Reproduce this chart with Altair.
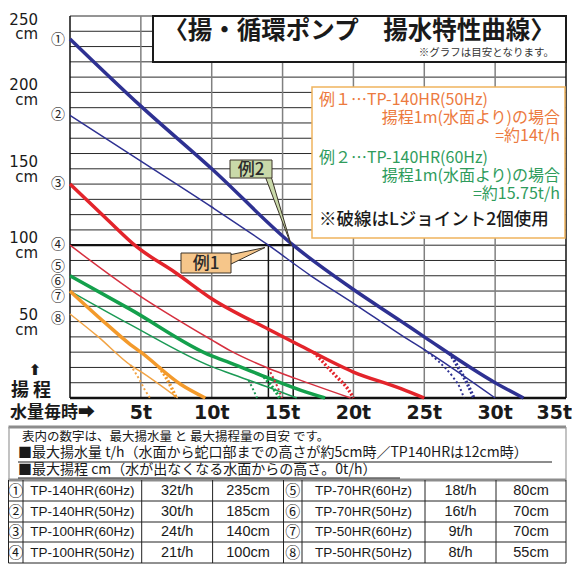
import altair as alt
import pandas as pd

# ---------------- data ----------------
flow_ticks = [5, 10, 15, 20, 25, 30, 35]
flow_grid = [5, 10, 15, 20, 25, 30]
head_grid = [0, 10, 20, 30, 40, 50, 60, 70, 80, 90, 100, 110, 120, 130, 140,
             150, 160, 170, 180, 190, 200, 210, 220, 230, 240, 250]
head_ticks = [200, 150, 100, 50]
head_top = [250]

pump_ids = ["①", "②", "③", "④", "⑤", "⑥", "⑦", "⑧"]
pump_colors = ["#2e3192", "#2e3192", "#e3242b", "#d6303f",
               "#14a04c", "#1b9a55", "#f39a2b", "#f2a445"]
pump_label_head = [234, 185, 140, 100, 86, 76, 66, 52]

models = ["TP-140HR(60Hz)", "TP-140HR(50Hz)", "TP-100HR(60Hz)", "TP-100HR(50Hz)",
          "TP-70HR(60Hz)", "TP-70HR(50Hz)", "TP-50HR(60Hz)", "TP-50HR(50Hz)"]
max_flow = ["32t/h", "30t/h", "24t/h", "21t/h", "18t/h", "16t/h", "9t/h", "8t/h"]
max_head = ["235cm", "185cm", "140cm", "100cm", "80cm", "70cm", "70cm", "55cm"]

# solid curves (flow t/h, head cm)
p1_flow = [0, 5, 10, 15.75, 20, 23.4, 25, 30, 32]
p1_head = [235, 191, 150, 100, 71, 50, 40, 10, 0]
p2_flow = [0, 5, 10, 14, 17, 20, 23.4, 25.2, 30]
p2_head = [185, 155, 125, 100, 80, 62, 41, 30.5, 0]
p3_flow = [0, 2.5, 4.7, 7.45, 10, 14, 16.3, 20, 23.4, 25]
p3_head = [140, 118, 99, 82, 65, 45, 34, 17, 6, 0]
p4_flow = [0, 4.26, 10, 11.3, 14, 16, 19.8]
p4_head = [100, 71, 38, 31, 19.5, 12.5, 0]
p5_flow = [0, 4.26, 10, 11.3, 14, 16.3, 18]
p5_head = [80, 58, 27.5, 23, 13, 5, 0]
p6_flow = [0, 4.26, 10, 11.3, 14, 16]
p6_head = [70, 48, 20.5, 16, 7, 0]
p7_flow = [0, 2.5, 4.26, 5, 7.8, 9.55]
p7_head = [70, 49, 35, 30, 9, 0]
p8_flow = [0, 2, 4.26, 5, 7.6]
p8_head = [55, 40, 21.6, 17.2, 0]

# dotted curves (with two L joints)
d1_flow = [26.8, 27.4, 28.0, 28.5]
d1_head = [29.2, 20, 10, 0]
d2_flow = [25.0, 26.0, 27.0, 27.5, 27.8]
d2_head = [31.5, 24, 14, 7, 0]
d3_flow = [17.2, 17.7, 18.8, 19.6, 20.0]
d3_head = [30, 25, 14, 6, 0]
d4_flow = [14.0, 14.4, 14.7, 14.95]
d4_head = [19.5, 12, 6, 0]
d5_flow = [13.7, 14.2, 14.6, 14.8]
d5_head = [13.8, 8, 3, 0]
d6_flow = [12.6, 12.9, 13.2]
d6_head = [11.6, 6, 0]
d7_flow = [6.3, 6.8, 7.2, 7.5]
d7_head = [20.2, 13, 6, 0]
d8_flow = [4.26, 4.9, 5.3, 5.65]
d8_head = [21.6, 12, 5, 0]

# worked examples: flow at 1 m head
example_flow = [14, 15.75]
example_head = [100]

ex1_lines = ["例１…TP-140HR(50Hz)", "揚程1m(水面より)の場合", "=約14t/h"]
ex2_lines = ["例２…TP-140HR(60Hz)", "揚程1m(水面より)の場合", "=約15.75t/h"]
dash_note = "※破線はLジョイント2個使用"
title_text = "〈揚・循環ポンプ　揚水特性曲線〉"
subtitle_text = "※グラフは目安となります。"
header_lines = ["表内の数字は、最大揚水量 と 最大揚程量の目安 です。",
                "■最大揚水量  t/h（水面から蛇口部までの高さが約5cm時／TP140HRは12cm時）",
                "■最大揚程  cm（水が出なくなる水面からの高さ。0t/h）"]

# ---------------- layout ----------------
M = 8  # page margin
PX_T = 496 / 35
PX_CM = 382 / 250


def ft(X):
    return (X - 70) / PX_T


def fh(Y):
    return (398 - Y) / PX_CM


xs = alt.Scale(domain=[0, 35], range=[62, 558], nice=False, zero=False)
ys = alt.Scale(domain=[0, 250], range=[390, 8], nice=False, zero=False)
cs = alt.Scale(domain=pump_ids, range=pump_colors)
JP = "Noto Sans CJK JP"
one = pd.DataFrame({"a": [0]})


def XE(f):
    return alt.X(f"{f}:Q", scale=xs, axis=None)


def YE(f):
    return alt.Y(f"{f}:Q", scale=ys, axis=None)


def segs(rows, **mk):
    df = pd.DataFrame(rows, columns=["x1", "x2", "y1", "y2"])
    return alt.Chart(df).mark_rule(**mk).encode(
        x=XE("x1"), x2="x2:Q", y=YE("y1"), y2="y2:Q")


def rect_units(x1, x2, y1, y2, **mk):
    df = pd.DataFrame({"x1": [x1], "x2": [x2], "y1": [y1], "y2": [y2]})
    return alt.Chart(df).mark_rect(**mk).encode(
        x=XE("x1"), x2="x2:Q", y=YE("y1"), y2="y2:Q")


def note(s, X, Y, **mk):
    return alt.Chart(pd.DataFrame({"s": [s]})).mark_text(baseline="middle", **mk).encode(
        x=alt.value(X - M), y=alt.value(Y - M), text="s:N")


def box(X0, Y0, X1, Y1, **mk):
    return alt.Chart(one).mark_rect(**mk).encode(
        x=alt.value(X0 - M), x2=alt.value(X1 - M), y=alt.value(Y0 - M), y2=alt.value(Y1 - M))


def curve_df(ids, flows, heads):
    rows = []
    for pid, fl, hd in zip(ids, flows, heads):
        for f, h in zip(fl, hd):
            rows.append({"pump": pid, "flow": f, "head": h})
    return pd.DataFrame(rows)


def curves(df, **mk):
    return alt.Chart(df).mark_line(interpolate="monotone", **mk).encode(
        x=XE("flow"), y=YE("head"),
        color=alt.Color("pump:N", scale=cs, legend=None),
        order=alt.Order("flow:Q"))


layers = []

# grid
layers.append(segs([[0, 35, h, h] for h in head_grid], color="#2a2a2a", strokeWidth=1))
layers.append(segs([[f, f, 0, 250] for f in flow_grid], color="#808080", strokeWidth=1.5))
layers.append(segs([[0, 0, 0, 250], [35, 35, 0, 250]], color="#111111", strokeWidth=1.5))
layers.append(segs([[0, 35, 0, 0]], color="#111111", strokeWidth=2.5))

# title box
layers.append(box(153, 16, 566, 62, fill="white", stroke="#1a1a1a", strokeWidth=2))
layers.append(note(title_text, 359, 32, font=JP, fontSize=24.5, fontWeight="bold",
                   align="center", color="#1a1a1a"))
layers.append(note(subtitle_text, 554, 53, font=JP, fontSize=10.5, align="right",
                   color="#333333"))

# info box
layers.append(box(312, 87, 565, 238, fill="white", stroke="#f0b45e", strokeWidth=1.5))
OR = "#ec7a3e"
GR = "#2f9c5c"
IF = 16
layers.append(note(ex1_lines[0], 319, 100, font=JP, fontSize=IF, align="left", color=OR))
layers.append(note(ex1_lines[1], 560, 118, font=JP, fontSize=IF, align="right", color=OR))
layers.append(note(ex1_lines[2], 560, 136, font=JP, fontSize=IF, align="right", color=OR))
layers.append(note(ex2_lines[0], 319, 158, font=JP, fontSize=IF, align="left", color=GR))
layers.append(note(ex2_lines[1], 560, 176, font=JP, fontSize=IF, align="right", color=GR))
layers.append(note(ex2_lines[2], 560, 194, font=JP, fontSize=IF, align="right", color=GR))
layers.append(note(dash_note, 319, 220, font=JP, fontSize=17.5, fontWeight=500,
                   align="left", color="#1a1a1a"))

# example guide lines
layers.append(segs([[0, example_flow[1], example_head[0], example_head[0]]],
                   color="#111111", strokeWidth=2.2))
layers.append(segs([[f, f, 0, example_head[0]] for f in example_flow],
                   color="#111111", strokeWidth=1.5))

# curves
thin_ids = ["②", "④", "⑥", "⑧"]
thick_ids = ["①", "③", "⑤", "⑦"]
thin_solid = curve_df(thin_ids, [p2_flow, p4_flow, p6_flow, p8_flow],
                      [p2_head, p4_head, p6_head, p8_head])
thick_solid = curve_df(thick_ids, [p1_flow, p3_flow, p5_flow, p7_flow],
                       [p1_head, p3_head, p5_head, p7_head])
thin_dot = curve_df(thin_ids, [d2_flow, d4_flow, d6_flow, d8_flow],
                    [d2_head, d4_head, d6_head, d8_head])
thick_dot = curve_df(thick_ids, [d1_flow, d3_flow, d5_flow, d7_flow],
                     [d1_head, d3_head, d5_head, d7_head])
layers.append(curves(thin_solid, strokeWidth=1.5))
layers.append(curves(thick_solid, strokeWidth=3.5))
layers.append(curves(thin_dot, strokeWidth=2, strokeDash=[2, 2.5]))
layers.append(curves(thick_dot, strokeWidth=3.4, strokeDash=[2, 2]))

# callouts
ex1_box = [ft(181), ft(231), fh(273), fh(253)]
ex2_box = [ft(230), ft(272), fh(178), fh(160)]
p1 = pd.DataFrame({"t": [ft(229), ft(265)], "lo": [fh(265), fh(247.5)],
                   "hi": [fh(255), fh(247.5)]})
layers.append(alt.Chart(p1).mark_area(fill="#f6c68a", stroke="#3a3328", strokeWidth=1,
                                      interpolate="linear").encode(
    x=XE("t"), y=YE("lo"), y2="hi:Q"))
layers.append(rect_units(*ex1_box, fill="#f6c68a", stroke="#3a3328", strokeWidth=1))
p2 = pd.DataFrame({"h": [fh(176), fh(246)], "lo": [ft(265), ft(291.5)],
                   "hi": [ft(271), ft(291.5)]})
layers.append(alt.Chart(p2).mark_area(fill="#c9d9a9", stroke="#3a3328", strokeWidth=1,
                                      interpolate="linear", orient="horizontal").encode(
    y=YE("h"), x=XE("lo"), x2="hi:Q"))
layers.append(rect_units(*ex2_box, fill="#c9d9a9", stroke="#3a3328", strokeWidth=1))
layers.append(note("例1", 206, 263.5, font=JP, fontSize=17, fontWeight=500,
                   align="center", color="#2a2a2a"))
layers.append(note("例2", 251, 169.5, font=JP, fontSize=17, fontWeight=500,
                   align="center", color="#2a2a2a"))

# y axis labels
YF = 15
ylab = pd.DataFrame({"v": head_ticks, "s": [str(v) for v in head_ticks]})
layers.append(alt.Chart(ylab).mark_text(font="DejaVu Sans", fontSize=YF, align="right",
                                        baseline="middle", dy=-7, color="#1a1a1a").encode(
    x=alt.value(38 - M), y=YE("v"), text="s:N"))
layers.append(alt.Chart(ylab).mark_text(font="DejaVu Sans", fontSize=YF, align="right",
                                        baseline="middle", dy=8, color="#1a1a1a").encode(
    x=alt.value(38 - M), y=YE("v"), text=alt.value("cm")))
ytop = pd.DataFrame({"v": head_top, "s": [str(v) for v in head_top]})
layers.append(alt.Chart(ytop).mark_text(font="DejaVu Sans", fontSize=YF, align="right",
                                        baseline="middle", dy=4, color="#1a1a1a").encode(
    x=alt.value(38 - M), y=YE("v"), text="s:N"))
layers.append(alt.Chart(ytop).mark_text(font="DejaVu Sans", fontSize=YF, align="right",
                                        baseline="middle", dy=18, color="#1a1a1a").encode(
    x=alt.value(38 - M), y=YE("v"), text=alt.value("cm")))

# circled pump numbers
circ = pd.DataFrame({"v": pump_label_head, "s": pump_ids})
layers.append(alt.Chart(circ).mark_text(font=JP, fontSize=14, align="center",
                                        baseline="middle", color="#222222").encode(
    x=alt.value(58 - M), y=YE("v"), text="s:N"))

# x tick labels
xl = pd.DataFrame({"t": flow_ticks[:-1], "s": [f"{t}t" for t in flow_ticks[:-1]]})
layers.append(alt.Chart(xl).mark_text(font="DejaVu Sans", fontSize=19, fontWeight="bold",
                                      align="center", baseline="middle",
                                      color="#1a1a1a").encode(
    x=XE("t"), y=alt.value(413 - M), text="s:N"))
xl2 = pd.DataFrame({"t": flow_ticks[-1:], "s": [f"{t}t" for t in flow_ticks[-1:]]})
layers.append(alt.Chart(xl2).mark_text(font="DejaVu Sans", fontSize=19, fontWeight="bold",
                                       align="right", baseline="middle", dx=6,
                                       color="#1a1a1a").encode(
    x=XE("t"), y=alt.value(413 - M), text="s:N"))
layers.append(note("水量毎時➡", 10, 413, font=JP, fontSize=17, fontWeight="bold",
                   align="left", color="#1a1a1a"))
layers.append(note("⬆", 35, 370, font="DejaVu Sans", fontSize=15, fontWeight="bold",
                   align="center", color="#1a1a1a"))
layers.append(note("揚 程", 31, 391, font=JP, fontSize=18, fontWeight="bold",
                   align="center", color="#1a1a1a"))

# ---------------- table ----------------
col_edges = [8.5, 23, 141.7, 212.6, 283.5, 302, 425, 496, 566]
row_edges = [480, 501, 522, 542, 563]
head_top_y = 427

tl = []
tl.append(segs([[ft(8.5), ft(566), fh(head_top_y), fh(head_top_y)],
                [ft(8.5), ft(566), fh(480), fh(480)]], color="#8c8c8c", strokeWidth=3))
tl.append(segs([[ft(9), ft(9), fh(head_top_y), fh(480)],
                [ft(566), ft(566), fh(head_top_y), fh(480)]], color="#9a9a9a", strokeWidth=1.2))
tl.append(segs([[ft(col_edges[0]), ft(col_edges[-1]), fh(y), fh(y)] for y in row_edges[1:]],
               color="#222222", strokeWidth=1))
tl.append(segs([[ft(x), ft(x), fh(row_edges[0]), fh(row_edges[-1])] for x in col_edges],
               color="#222222", strokeWidth=1))

tl.append(note(header_lines[0], 22, 436.5, font=JP, fontSize=12.5, align="left", color="#1a1a1a"))
tl.append(note(header_lines[1], 18, 453, font=JP, fontSize=14, align="left", color="#1a1a1a"))
tl.append(note(header_lines[2], 18, 469.5, font=JP, fontSize=14, align="left", color="#1a1a1a"))
tl.append(segs([[ft(18), ft(552), fh(462), fh(462)],
                [ft(18), ft(400), fh(478), fh(478)]], color="#1a1a1a", strokeWidth=1))

cells = {0: [], 1: [], 2: []}
for r in range(4):
    cy = fh((row_edges[r] + row_edges[r + 1]) / 2)
    for half in range(2):
        i = r + 4 * half
        vals = [pump_ids[i], models[i], max_flow[i], max_head[i]]
        for c in range(4):
            e0 = col_edges[4 * half + c]
            e1 = col_edges[4 * half + c + 1]
            kind = 0 if c == 0 else (1 if c == 1 else 2)
            cells[kind].append({"t": ft((e0 + e1) / 2), "h": cy, "s": vals[c]})
cell_fonts = {0: (JP, 15), 1: ("Liberation Sans", 13.5), 2: ("Liberation Sans", 14.5)}
for kind, rows in cells.items():
    fnt, fs = cell_fonts[kind]
    tl.append(alt.Chart(pd.DataFrame(rows)).mark_text(font=fnt, fontSize=fs, align="center",
                                                      baseline="middle",
                                                      color="#1a1a1a").encode(
        x=XE("t"), y=YE("h"), text="s:N"))

chart = alt.layer(*(layers + tl)).properties(
    width=564, height=564, padding=0,
    autosize=alt.AutoSizeParams(type="none"),
    background="white",
).configure_view(stroke=None)

chart.save("out.html", embed_options={"renderer": "svg", "actions": False})
